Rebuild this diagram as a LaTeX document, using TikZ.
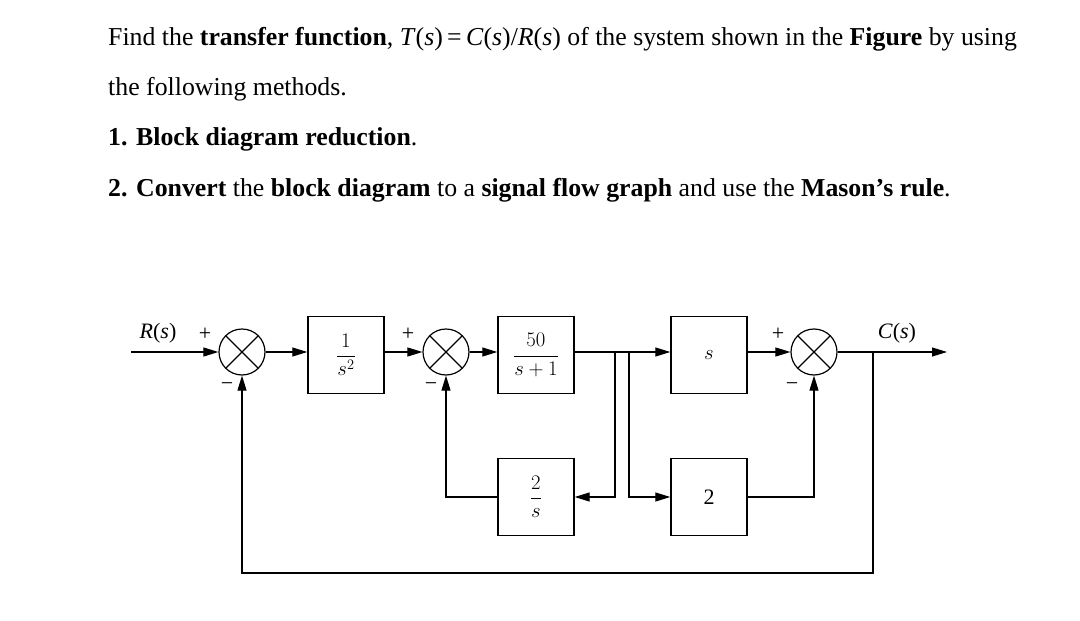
\documentclass[tikz,border=0pt]{standalone}
\usepackage{fontspec}
\setmainfont{Liberation Serif}
\usetikzlibrary{arrows.meta}
\begin{document}
\begin{tikzpicture}[x=1pt,y=-1pt,
  blk/.style={draw,line width=1.4pt,minimum width=76pt,minimum height=77pt,inner sep=0pt,font=\fontsize{22}{24}\selectfont},
  sum/.style={draw,circle,line width=1.2pt,minimum size=46pt,inner sep=0pt,path picture={\draw[line width=1.1pt] (path picture bounding box.south west)--(path picture bounding box.north east) (path picture bounding box.north west)--(path picture bounding box.south east);}},
  lbl/.style={font=\fontsize{22}{24}\selectfont,inner sep=0pt},
  sgn/.style={font=\fontsize{22}{24}\selectfont,inner sep=0pt},
  txt/.style={font=\fontsize{25.8}{28}\selectfont,anchor=west,inner sep=0pt},
  ln/.style={line width=1.1pt},
  ar/.style={ln,-{Triangle[length=15pt,width=9pt]}}]
\useasboundingbox[fill=white] (0,0) rectangle (1080,621);
\node[txt] (t1) at (108,39) {Find the \textbf{transfer function}, \textit{T}(\textit{s})\,=\,\textit{C}(\textit{s})/\textit{R}(\textit{s}) of the system shown in the \textbf{Figure} by using};
\node[txt] (t2) at (108,89) {the following methods.};
\node[txt] (t3) at (108,139) {\textbf{1. Block diagram reduction}.};
\node[txt] (t4) at (108,190) {\textbf{2. Convert} the \textbf{block diagram} to a \textbf{signal flow graph} and use the \textbf{Mason’s rule}.};
% nodes
\coordinate (in) at (131,352);
\node[sum] (s1) at (242,352) {};
\node[blk] (b1) at (346,355) {$\displaystyle\frac{1}{s^2}$};
\node[sum] (s2) at (446,352) {};
\node[blk] (b2) at (536,355) {$\displaystyle\frac{50}{s+1}$};
\node[blk] (b3) at (536,497) {$\displaystyle\frac{2}{s}$};
\node[blk] (b4) at (709,355) {$s$};
\node[blk] (b5) at (709,497) {2};
\node[sum] (s3) at (814,352) {};
\coordinate (out) at (947,352);
\coordinate (j1) at (615,352);
\coordinate (j2) at (629,352);
\coordinate (j3) at (873,352);
% labels
\node[lbl] (lr) at (158,333) {\textit{R}(\textit{s})};
\node[lbl] (lc) at (897,333) {\textit{C}(\textit{s})};
\node[sgn] (p1) at (205,334) {+};
\node[sgn] (p2) at (408,334) {+};
\node[sgn] (p3) at (778,334) {+};
\node[sgn] (m1) at (227,387) {\textminus};
\node[sgn] (m2) at (431,387) {\textminus};
\node[sgn] (m3) at (792,387) {\textminus};
% connectors
\draw[ar] (in) -- (s1);
\draw[ar] (s1) -- (s1 -| b1.west);
\draw[ar] (b1.east |- s2) -- (s2);
\draw[ar] (s2) -- (s2 -| b2.west);
\draw[ln] (s2 -| b2.east) -- (j2);
\draw[ar] (j2) -- (s2 -| b4.west);
\draw[ar] (s3 -| b4.east) -- (s3);
\draw[ar] (s3) -- (out);
\draw[ar] (j1) |- (b3.east);
\draw[ar] (b3.west) -| (s2.south);
\draw[ar] (j2) |- (b5.west);
\draw[ar] (b5.east) -| (s3.south);
\draw[ar] (j3) |- (242,573) -- (s1.south);
\end{tikzpicture}
\end{document}
